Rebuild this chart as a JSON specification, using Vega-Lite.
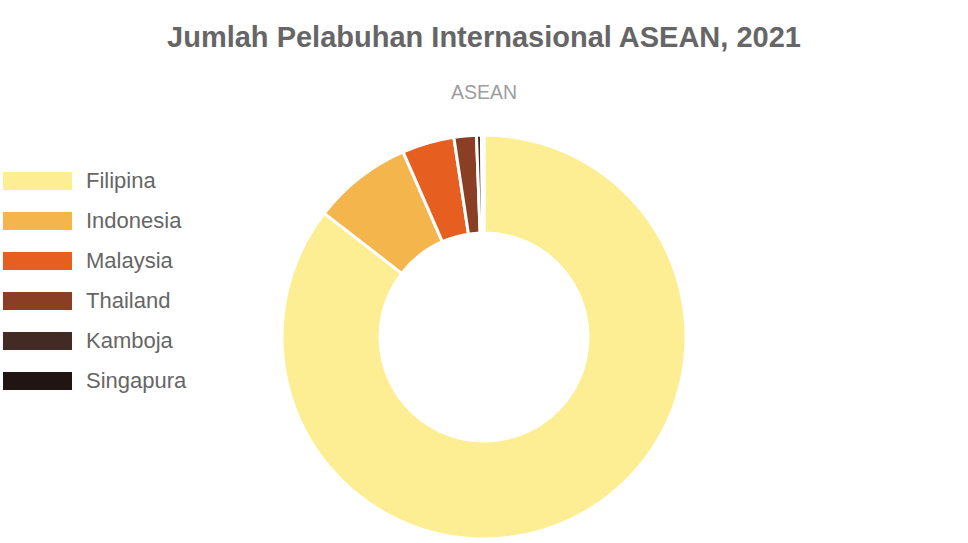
{
  "$schema": "https://vega.github.io/schema/vega-lite/v6.json",
  "autosize": "none",
  "width": 968,
  "height": 454,
  "padding": {"left": 0, "top": 110, "right": 0, "bottom": 0},
  "background": "white",
  "title": {
    "text": "Jumlah Pelabuhan Internasional ASEAN, 2021",
    "subtitle": "ASEAN",
    "anchor": "middle",
    "frame": "group",
    "font": "Liberation Sans",
    "fontSize": 29,
    "fontWeight": "bold",
    "color": "#666666",
    "subtitleFont": "Liberation Sans",
    "subtitleFontSize": 19.5,
    "subtitleColor": "#9e9e9e",
    "subtitlePadding": 31,
    "offset": 8
  },
  "data": {
    "values": [
      {"negara": "Filipina", "jumlah": 430},
      {"negara": "Indonesia", "jumlah": 40},
      {"negara": "Malaysia", "jumlah": 21},
      {"negara": "Thailand", "jumlah": 9},
      {"negara": "Kamboja", "jumlah": 2},
      {"negara": "Singapura", "jumlah": 1}
    ]
  },
  "mark": {
    "type": "arc",
    "radius": 202,
    "innerRadius": 104,
    "stroke": "white",
    "strokeWidth": 3
  },
  "encoding": {
    "theta": {"field": "jumlah", "type": "quantitative", "stack": true},
    "order": {"field": "jumlah", "sort": "descending"},
    "color": {
      "field": "negara",
      "type": "nominal",
      "scale": {
        "domain": ["Filipina", "Indonesia", "Malaysia", "Thailand", "Kamboja", "Singapura"],
        "range": ["#fdee93", "#f4b54c", "#e65f21", "#8a3f25", "#432b25", "#211513"]
      },
      "legend": {
        "title": null,
        "orient": "none",
        "legendX": 8.5,
        "legendY": 42,
        "symbolType": "M-1.19,-0.31L1.19,-0.31L1.19,0.31L-1.19,0.31Z",
        "symbolSize": 3364,
        "symbolStrokeWidth": 0,
        "symbolOpacity": 1,
        "labelFont": "Liberation Sans",
        "labelFontSize": 22,
        "labelColor": "#666666",
        "labelOffset": 19.5,
        "rowPadding": 0
      }
    }
  },
  "config": {"view": {"stroke": null}}
}
